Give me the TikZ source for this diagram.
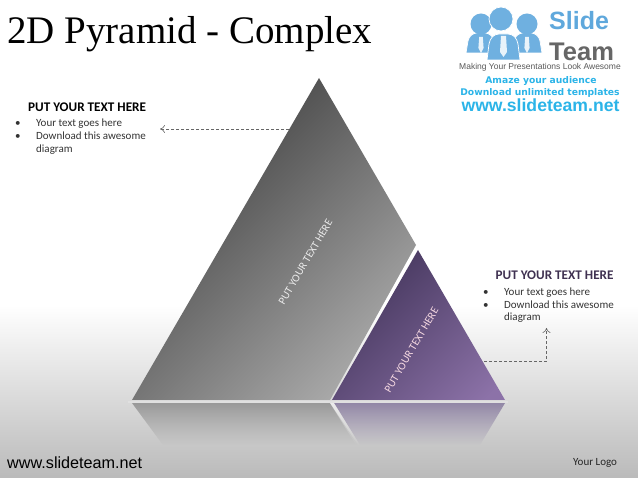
\documentclass[tikz,border=0pt]{standalone}
\usepackage{fontspec}
\setmainfont{Carlito}
\newfontfamily\titlefont{Liberation Serif}
\newfontfamily\arialfont{Liberation Sans}
\newfontfamily\verdfont{DejaVu Sans}
\usetikzlibrary{arrows.meta,fadings}
\definecolor{headpurple}{HTML}{3F3151}
\definecolor{logoblue}{HTML}{5FA8DC}
\definecolor{bodyblue}{HTML}{6FB0E0}
\definecolor{linkblue}{HTML}{2BB4E8}
\definecolor{reflpurple}{HTML}{9287A6}
\definecolor{darkpurple}{HTML}{42345A}
\definecolor{lightpurple}{HTML}{8C72A8}
\tikzset{
  lbl/.style={inner sep=0,anchor=base west,font=\fontsize{13.2}{15}\selectfont\bfseries},
  bul/.style={inner sep=0,anchor=base west,font=\fontsize{11}{13}\selectfont,text=black!80},
  rot/.style={inner sep=0,rotate=59.5,font=\fontsize{11}{13}\selectfont,text=#1},
  dashline/.style={draw=black!60,densely dashed,line width=0.6pt,-{To[open,length=5pt,width=8pt]}},
  logotext/.style={inner sep=0,anchor=base west},
  man/.style={fill=bodyblue,draw=white,line width=0.7pt},
  tie/.style={fill=white!85!bodyblue,draw=none}
}
\begin{document}
\begin{tikzpicture}[x=1pt,y=-1pt]
\useasboundingbox (0,0) rectangle (638,478);
% background
\fill[white] (0,0) rectangle (638,478);
\shade[top color=white,middle color=black!22,bottom color=black!27] (0,305) rectangle (638,478);
% reflections
\fill[black!40,path fading=south] (132,403) -- (330,403) -- (358,445) -- (163,445) -- cycle;
\fill[reflpurple,path fading=south] (334,403) -- (505,403) -- (480,445) -- (360,445) -- cycle;
\fill[white,opacity=0.5,path fading=south] (330,403) -- (334,403) -- (360,445) -- (356,445) -- cycle;
% main shapes
\begin{scope}
\clip (319,78) -- (416,245) -- (330,400) -- (132,400) -- cycle;
\shade[top color=black!80,bottom color=black!32,shading angle=45] (100,70) rectangle (440,410);
\end{scope}
\begin{scope}
\clip (418,250) -- (505,400) -- (332,400) -- cycle;
\shade[top color=darkpurple,bottom color=lightpurple,shading angle=45] (330,248) rectangle (510,428);
\end{scope}
\draw[black!12,line width=2.4pt] (128,402) -- (508,402);
% labels in shapes
\node[rot=white!92!black] (graylabel) at (305.5,262) {PUT YOUR TEXT HERE};
\node[rot=white!85!purple] (purplelabel) at (411.5,350) {PUT YOUR TEXT HERE};
% title & footer
\node[inner sep=0,anchor=base west,font=\titlefont\fontsize{39}{42}\selectfont] (title) at (7,44) {2D Pyramid - Complex};
\node[inner sep=0,anchor=base west,font=\arialfont\fontsize{16.2}{20}\selectfont] (site) at (7,469) {www.slideteam.net};
\node[inner sep=0,anchor=base west,font=\fontsize{11}{13}\selectfont,text=black!85] (yourlogo) at (573,466) {Your Logo};
% left text
\node[lbl] (lefthead) at (28,112) {PUT YOUR TEXT HERE};
\node[bul] (lb1) at (15,127) {•};
\node[bul] (lt1) at (36,127) {Your text goes here};
\node[bul] (lb2) at (15,140) {•};
\node[bul] (lt2) at (36,140) {Download this awesome};
\node[bul] (lt3) at (36,153) {diagram};
% right text
\node[lbl,text=headpurple] (righthead) at (495.5,280) {PUT YOUR TEXT HERE};
\node[bul] (rb1) at (483,296) {•};
\node[bul] (rt1) at (504,296) {Your text goes here};
\node[bul] (rb2) at (483,309) {•};
\node[bul] (rt2) at (504,309) {Download this awesome};
\node[bul] (rt3) at (504,321) {diagram};
% connectors
\coordinate (la) at (160,129);
\coordinate (ls) at (289,129);
\coordinate (rs) at (484,361.5);
\coordinate (ra) at (546.5,328);
\draw[dashline] (ls) -- (la);
\draw[dashline] (rs) -| (ra);
% logo
\foreach \x in {481,527}{
  \path[man] (\x-15,53) -- (\x-13,41) .. controls (\x-12,36) and (\x-8,33) .. (\x-4,33) -- (\x+4,33) .. controls (\x+8,33) and (\x+12,36) .. (\x+13,41) -- (\x+15,53) -- cycle;
  \fill[bodyblue] (\x,24) circle (10.5);
  \fill[white!85!bodyblue] (\x-1.8,37) -- (\x+1.8,37) -- (\x+2.6,48) -- (\x,53) -- (\x-2.6,48) -- cycle;
}
\path[man] (487,60) -- (489,44) .. controls (490,38) and (494,34) .. (499,34) -- (508,34) .. controls (513,34) and (517,38) .. (518,44) -- (520,60) -- cycle;
\draw[white,line width=0.7pt,fill=bodyblue] (501,19) circle (12);
\fill[tie] (501,36) -- (506,36) -- (507,52) -- (503.5,57) -- (500,52) -- cycle;
\node[logotext,font=\arialfont\bfseries\fontsize{25}{30}\selectfont,text=logoblue] (logoslide) at (549,30) {Slide};
\node[logotext,font=\arialfont\bfseries\fontsize{25.5}{30}\selectfont,text=black!60] (logoteam) at (549,60.5) {Team};
\node[logotext,font=\arialfont\fontsize{8.5}{11}\selectfont,text=black!65] (logotag) at (459,70) {Making Your Presentations Look Awesome};
\node[inner sep=0,anchor=base,font=\verdfont\bfseries\fontsize{9.2}{10}\selectfont,text=linkblue] (logoa) at (541,84) {Amaze your audience};
\node[inner sep=0,anchor=base,font=\verdfont\bfseries\fontsize{9.2}{10}\selectfont,text=linkblue] (logob) at (540,95.5) {Download unlimited templates};
\node[inner sep=0,anchor=base,font=\arialfont\bfseries\fontsize{17.6}{18}\selectfont,text=linkblue] (logoc) at (540.5,112) {www.slideteam.net};
\end{tikzpicture}
\end{document}
